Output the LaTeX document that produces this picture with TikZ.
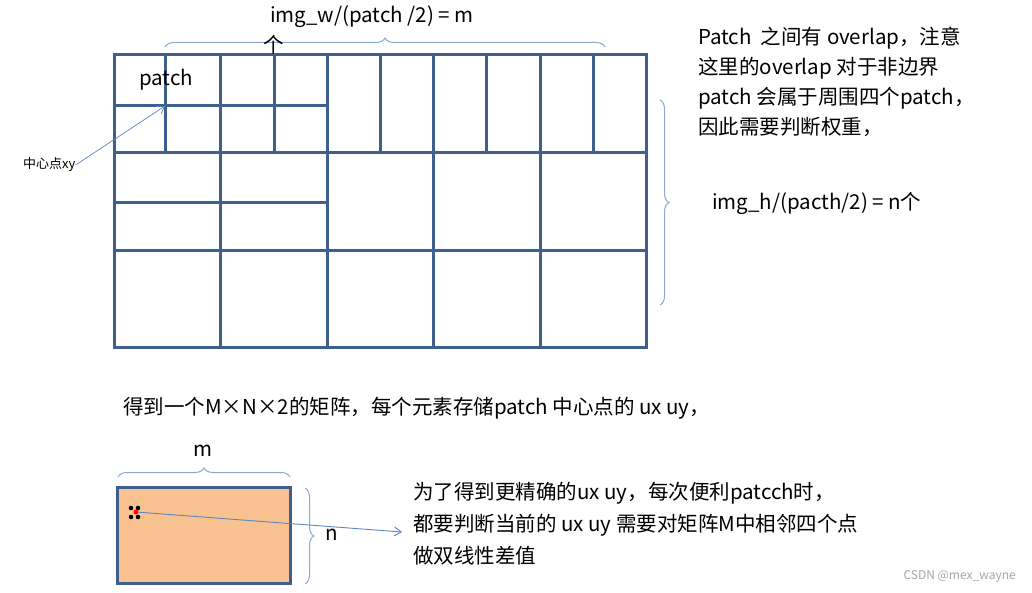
\documentclass[tikz,border=0pt]{standalone}
\usepackage{fontspec}
\setmainfont{Noto Sans CJK SC}
\usetikzlibrary{decorations.pathreplacing,arrows.meta}
\definecolor{gridc}{HTML}{3F5F8C}
\definecolor{bracec}{HTML}{8EA9D0}
\definecolor{arrc}{HTML}{5B86C0}
\definecolor{fillc}{HTML}{F8C291}
\begin{document}
\begin{tikzpicture}[x=1pt,y=-1pt,
  g/.style={draw=gridc,line width=3pt},
  br/.style={draw=bracec,line width=1pt,decorate,decoration={brace,amplitude=9pt}},
  txt/.style={font=\fontsize{20.5}{24}\selectfont,inner sep=0pt,anchor=west},
  con/.style={draw=arrc,line width=0.9pt,-{Straight Barb[length=7pt,width=9pt]}}]
\useasboundingbox[fill=white] (0,0) rectangle (1032,593);
% grid
\draw[g] (114,55) rectangle (646,347);
\foreach \x in {165,220,274,327,380,433,486,540,593} \draw[g] (\x,55) -- (\x,153);
\draw[g] (114,153) -- (646,153);
\draw[g] (114,106) -- (327,106);
\foreach \x in {220,327,433,540} \draw[g] (\x,153) -- (\x,347);
\draw[g] (114,203) -- (327,203);
\draw[g] (114,251) -- (646,251);
\node[txt] (patch) at (139,80) {patch};
% braces
\coordinate (tb1) at (165,47); \coordinate (tb2) at (605,47);
\draw[br] (tb1) -- (tb2);
\node[txt] (wlab) at (270,17) {img\_w/(patch /2) = m};
\node[txt] (ge) at (263,45) {个};
\coordinate (rb1) at (660,100); \coordinate (rb2) at (660,305);
\draw[br] (rb1) -- (rb2);
\node[txt] (hlab) at (712,203) {img\_h/(pacth/2) = n个};
\node[txt,align=left,anchor=north west,font=\fontsize{20.5}{30}\selectfont] (note) at (698,27) {Patch\ \ 之间有 overlap，注意\\这里的overlap 对于非边界\\patch 会属于周围四个patch，\\因此需要判断权重，};
\node[txt,font=\fontsize{13}{15}\selectfont] (cxy) at (23,165) {中心点xy};
\coordinate (c1) at (165,106);
\draw[con,line width=0.7pt] (cxy.east) -- (c1);
% middle text
\node[txt] (mid) at (123,408) {得到一个M×N×2的矩阵，每个元素存储patch 中心点的 ux uy，};
% bottom matrix
\draw[draw=gridc,line width=3pt,fill=fillc] (117,487) rectangle (290,583);
\coordinate (mb1) at (118,477); \coordinate (mb2) at (290,477);
\draw[br] (mb1) -- (mb2);
\node[txt,anchor=center] (mlab) at (203,451) {m};
\coordinate (nb1) at (305,488); \coordinate (nb2) at (305,584);
\draw[br] (nb1) -- (nb2);
\node[txt] (nlab) at (325,535) {n};
\foreach \dx/\dy in {131/508,138/508,131/517,138/517} \fill (\dx,\dy) circle (2.3);
\node[circle,fill=red,inner sep=0pt,minimum size=5pt] (rd) at (136,512) {};
\coordinate (aend) at (402,532);
\draw[con] (rd) -- (aend);
\node[txt,align=left,anchor=north west,font=\fontsize{20.5}{32}\selectfont] (bnote) at (413,482) {为了得到更精确的ux uy，每次便利patcch时，\\都要判断当前的 ux uy 需要对矩阵M中相邻四个点\\做双线性差值};
\node[txt,font=\fontsize{12}{14}\selectfont,text=gray!70,anchor=east] (wm) at (1016,576) {CSDN @mex\_wayne};
\end{tikzpicture}
\end{document}
